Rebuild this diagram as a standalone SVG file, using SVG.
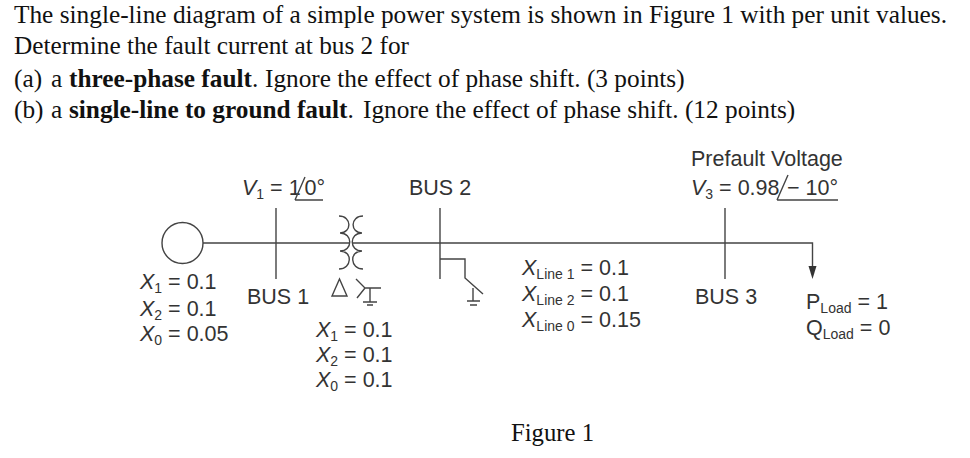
<svg xmlns="http://www.w3.org/2000/svg" width="970" height="458" viewBox="0 0 970 458">
<style>
.q{font-family:"Liberation Serif",serif;font-size:25.3px;fill:#111}
.f{font-size:24.4px}
.b{font-weight:bold}
.d{font-family:"Liberation Sans",Arial,sans-serif;font-size:21.5px;fill:#333}
.i{font-style:italic}
.s{font-size:14px}
.l{fill:none;stroke:#444;stroke-width:1.4}
</style>
<rect width="970" height="458" fill="#fff"/>
<g id="question">
<text class="q" x="14" y="23" textLength="933" lengthAdjust="spacingAndGlyphs">The single-line diagram of a simple power system is shown in Figure 1 with per unit values.</text>
<text class="q" x="14" y="54" textLength="395" lengthAdjust="spacingAndGlyphs">Determine the fault current at bus 2 for</text>
<text class="q" x="14" y="87">(a)<tspan x="51">a</tspan><tspan x="69" class="b">three-phase fault</tspan>.<tspan x="265">Ignore the effect of phase shift. (3 points)</tspan></text>
<text class="q" x="14" y="118">(b)<tspan x="51">a</tspan><tspan x="69" class="b">single-line to ground fault</tspan>.<tspan x="363">Ignore the effect of phase shift. (12 points)</tspan></text>
<text class="q f" x="511" y="441" textLength="83" lengthAdjust="spacingAndGlyphs">Figure 1</text>
</g>
<g id="connectors">
<path class="l" d="M203 243H349M353 243H812.500V268"/>
<path class="l" d="M440 259H465V278L483 294M473 288V301"/>
<path class="l" d="M467 301H480M470 305H477"/>
</g>
<g id="generator"><circle class="l" cx="182.500" cy="243" r="20.500"/></g>
<g id="bus1"><path class="l" d="M276 208V279"/><text class="d" x="247" y="304">BUS 1</text></g>
<g id="bus2"><path class="l" d="M440 208V279"/><text class="d" x="409" y="195">BUS 2</text></g>
<g id="bus3"><path class="l" d="M725 208V279"/><text class="d" x="695" y="304">BUS 3</text></g>
<g id="transformer">
<path class="l" d="M339 216C352 216 352 233 340 233C353 233 353 251 340 251C353 251 352 269 339 269M363 216C350 216 350 233 362 233C349 233 349 251 362 251C349 251 350 269 363 269"/>
<path class="l" d="M332 296L339.500 279L347 296Z"/>
<path class="l" d="M356 279L365 288L357 298M365 288H381M370 288V302M363 302H377M367 305H373"/>
</g>
<g id="load"><path d="M808.500 266H816.500L812.500 279Z" fill="#333"/></g>
<g id="labels">
<text class="d" x="242" y="195"><tspan class="i">V</tspan><tspan class="s" dy="4">1</tspan><tspan dy="-4"> = 1</tspan></text>
<text class="d" x="304.500" y="195">0°</text>
<path class="l" d="M295 200L305 177M295 200H323"/>
<text class="d" x="691" y="166">Prefault Voltage</text>
<text class="d" x="691" y="195"><tspan class="i">V</tspan><tspan class="s" dy="4">3</tspan><tspan dy="-4"> = 0.98</tspan></text>
<text class="d" x="787" y="195">− 10°</text>
<path class="l" d="M777 200L788 175M777 200H838"/>
<text class="d" x="140" y="289"><tspan class="i">X</tspan><tspan class="s" dy="4">1</tspan><tspan dy="-4"> = 0.1</tspan></text>
<text class="d" x="140" y="316"><tspan class="i">X</tspan><tspan class="s" dy="4">2</tspan><tspan dy="-4"> = 0.1</tspan></text>
<text class="d" x="140" y="341"><tspan class="i">X</tspan><tspan class="s" dy="4">0</tspan><tspan dy="-4"> = 0.05</tspan></text>
<text class="d" x="316" y="337"><tspan class="i">X</tspan><tspan class="s" dy="4">1</tspan><tspan dy="-4"> = 0.1</tspan></text>
<text class="d" x="316" y="362"><tspan class="i">X</tspan><tspan class="s" dy="4">2</tspan><tspan dy="-4"> = 0.1</tspan></text>
<text class="d" x="316" y="387"><tspan class="i">X</tspan><tspan class="s" dy="4">0</tspan><tspan dy="-4"> = 0.1</tspan></text>
<text class="d" x="522" y="275"><tspan class="i">X</tspan><tspan class="s" dy="4">Line 1</tspan><tspan dy="-4"> = 0.1</tspan></text>
<text class="d" x="522" y="301"><tspan class="i">X</tspan><tspan class="s" dy="4">Line 2</tspan><tspan dy="-4"> = 0.1</tspan></text>
<text class="d" x="522" y="327"><tspan class="i">X</tspan><tspan class="s" dy="4">Line 0</tspan><tspan dy="-4"> = 0.15</tspan></text>
<text class="d" x="806" y="309">P<tspan class="s" dy="4">Load</tspan><tspan dy="-4"> = 1</tspan></text>
<text class="d" x="806" y="335">Q<tspan class="s" dy="4">Load</tspan><tspan dy="-4"> = 0</tspan></text>
</g>
</svg>
